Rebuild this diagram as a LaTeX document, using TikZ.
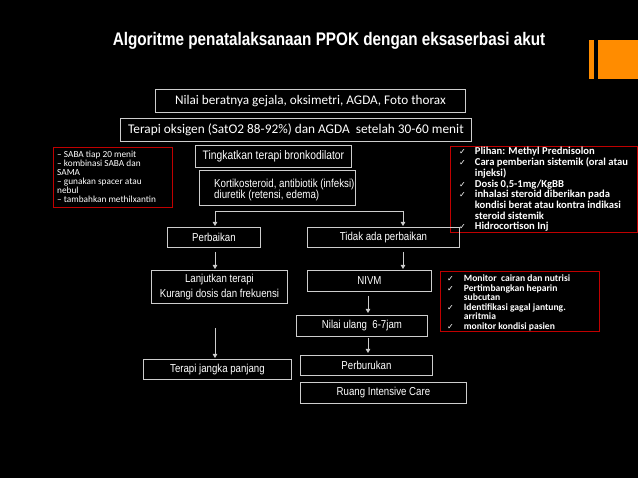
\documentclass[tikz,border=0pt]{standalone}
\usepackage{fontspec}
\setmainfont{Liberation Sans}
\newfontfamily\nar[FakeStretch=0.84]{Liberation Sans}
\newfontfamily\calib{Carlito}
\newfontfamily\dv{DejaVu Sans}
\usetikzlibrary{arrows.meta}
\definecolor{boxgray}{RGB}{205,205,205}
\definecolor{redline}{RGB}{192,0,0}
\definecolor{orng}{RGB}{255,140,0}
\newcommand{\ck}{{\dv\fontsize{8}{8}\selectfont ✓}}
\tikzset{
  gbox/.style={draw=boxgray, line width=0.9pt, text=white, inner sep=0pt, anchor=north west},
  rbox/.style={draw=redline, line width=0.9pt, anchor=north west, inner sep=0pt},
  txt/.style={text=white, inner sep=0pt},
  arr/.style={draw=boxgray, line width=0.8pt, -{Triangle[width=4.5pt,length=4pt]}},
  conn/.style={draw=boxgray, line width=0.8pt},
  narf/.style={font=\nar\fontsize{11.5}{15}\selectfont},
}
\begin{document}
\begin{tikzpicture}[x=1pt,y=-1pt]
\fill[black] (0,0) rectangle (638,478);
\useasboundingbox (0,0) rectangle (638,478);

% title
\node[txt, font=\nar\bfseries\fontsize{18.2}{20}\selectfont] (title) at (329,41) {Algoritme penatalaksanaan PPOK dengan eksaserbasi akut};
% orange decoration
\fill[orng] (589,40) rectangle (594,79);
\fill[orng] (598,40) rectangle (638,79);

% top boxes
\node[gbox, minimum width=310pt, minimum height=23pt, font=\calib\fontsize{13.2}{15}\selectfont] (nilai) at (155,89) {Nilai beratnya gejala, oksimetri, AGDA, Foto thorax};
\node[gbox, minimum width=351pt, minimum height=23pt, font=\calib\fontsize{13.3}{15}\selectfont] (oksigen) at (120,118) {Terapi oksigen (SatO2 88-92\%) dan AGDA\ \ setelah 30-60 menit};

\node[gbox, minimum width=156pt, minimum height=22pt, font=\nar\fontsize{12.3}{14}\selectfont] (tingkat) at (195,145) {Tingkatkan terapi bronkodilator};
\node[gbox, minimum width=156pt, minimum height=35pt] (kort) at (199,170) {};
\node[txt, anchor=west, align=left, font=\nar\fontsize{11.6}{11}\selectfont] (kortt) at ([xshift=15pt,yshift=-2pt]kort.west) {Kortikosteroid, antibiotik (infeksi)\\diuretik (retensi, edema)};

% left red box
\node[rbox, minimum width=119pt, minimum height=60pt] (redl) at (53,147) {};
\node[txt, anchor=north west, align=left, font=\calib\fontsize{9.3}{8.9}\selectfont] (redlt) at (57,151) {– SABA tiap 20 menit\\– kombinasi SABA dan\\SAMA\\– gunakan spacer atau\\nebul\\– tambahkan methilxantin};

% right red box
\node[rbox, minimum width=187pt, minimum height=86pt] (redr) at (450,146) {};
\node[txt, anchor=north west, font=\calib\bfseries\fontsize{10.6}{10.5}\selectfont] (redrt) at (459,147) {%
\begin{tabular}{@{}l@{\hspace{9pt}}l@{}}
\ck & Plihan: Methyl Prednisolon\\
\ck & Cara pemberian sistemik (oral atau\\
 & injeksi)\\
\ck & Dosis 0,5-1mg/KgBB\\
\ck & inhalasi steroid diberikan pada\\
 & kondisi berat atau kontra indikasi\\
 & steroid sistemik\\
\ck & Hidrocortison Inj
\end{tabular}};

% branch
\node[gbox, narf, minimum width=93pt, minimum height=20pt] (perb) at (167,227) {Perbaikan};
\node[gbox, narf, minimum width=152pt, minimum height=20pt] (tidak) at (307,227) {Tidak ada perbaikan};
\coordinate (bl) at (215,211);
\coordinate (br) at (403,211);
\draw[conn] (bl) -- (br);
\draw[arr, shorten >=1pt] (bl) -- (bl |- perb.north);
\draw[arr, shorten >=1pt] (br) -- (br |- tidak.north);

% left column
\node[gbox, narf, minimum width=136pt, minimum height=33pt, align=center] (lanj) at (151,270) {Lanjutkan terapi\\Kurangi dosis dan frekuensi};
\node[gbox, narf, minimum width=148pt, minimum height=20pt] (jangka) at (143,359) {Terapi jangka panjang};
\draw[arr, shorten <=4pt, shorten >=1pt] (perb.south -| bl) -- (lanj.north -| bl);
\draw[arr, shorten <=24pt, shorten >=1pt] (lanj.south -| bl) -- (jangka.north -| bl);

% right column
\node[gbox, narf, minimum width=124pt, minimum height=21pt] (nivm) at (307,270) {NIVM};
\node[gbox, narf, minimum width=131pt, minimum height=21pt] (ulang) at (296,315) {Nilai ulang\ \ 6-7jam};
\node[gbox, narf, minimum width=132pt, minimum height=20pt] (burk) at (300,355) {Perburukan};
\node[gbox, narf, minimum width=166pt, minimum height=21pt] (icu) at (300,382) {Ruang Intensive Care};
\coordinate (cx) at (368,0);
\draw[arr, shorten <=4pt, shorten >=1pt] (tidak.south -| br) -- (nivm.north -| br);
\draw[arr, shorten <=4pt, shorten >=2pt] (nivm.south -| cx) -- (ulang.north -| cx);
\draw[arr, shorten <=1pt, shorten >=2pt] (ulang.south -| cx) -- (burk.north -| cx);

% lower red box
\node[rbox, minimum width=159pt, minimum height=60pt] (redm) at (440,271) {};
\node[txt, anchor=north west, font=\calib\bfseries\fontsize{9.6}{9.1}\selectfont] (redmt) at (447,275) {%
\begin{tabular}{@{}l@{\hspace{10pt}}l@{}}
\ck & Monitor\ \ cairan dan nutrisi\\
\ck & Pertimbangkan heparin\\
 & subcutan\\
\ck & Identifikasi gagal jantung.\\
 & arritmia\\
\ck & monitor kondisi pasien
\end{tabular}};
\end{tikzpicture}
\end{document}
